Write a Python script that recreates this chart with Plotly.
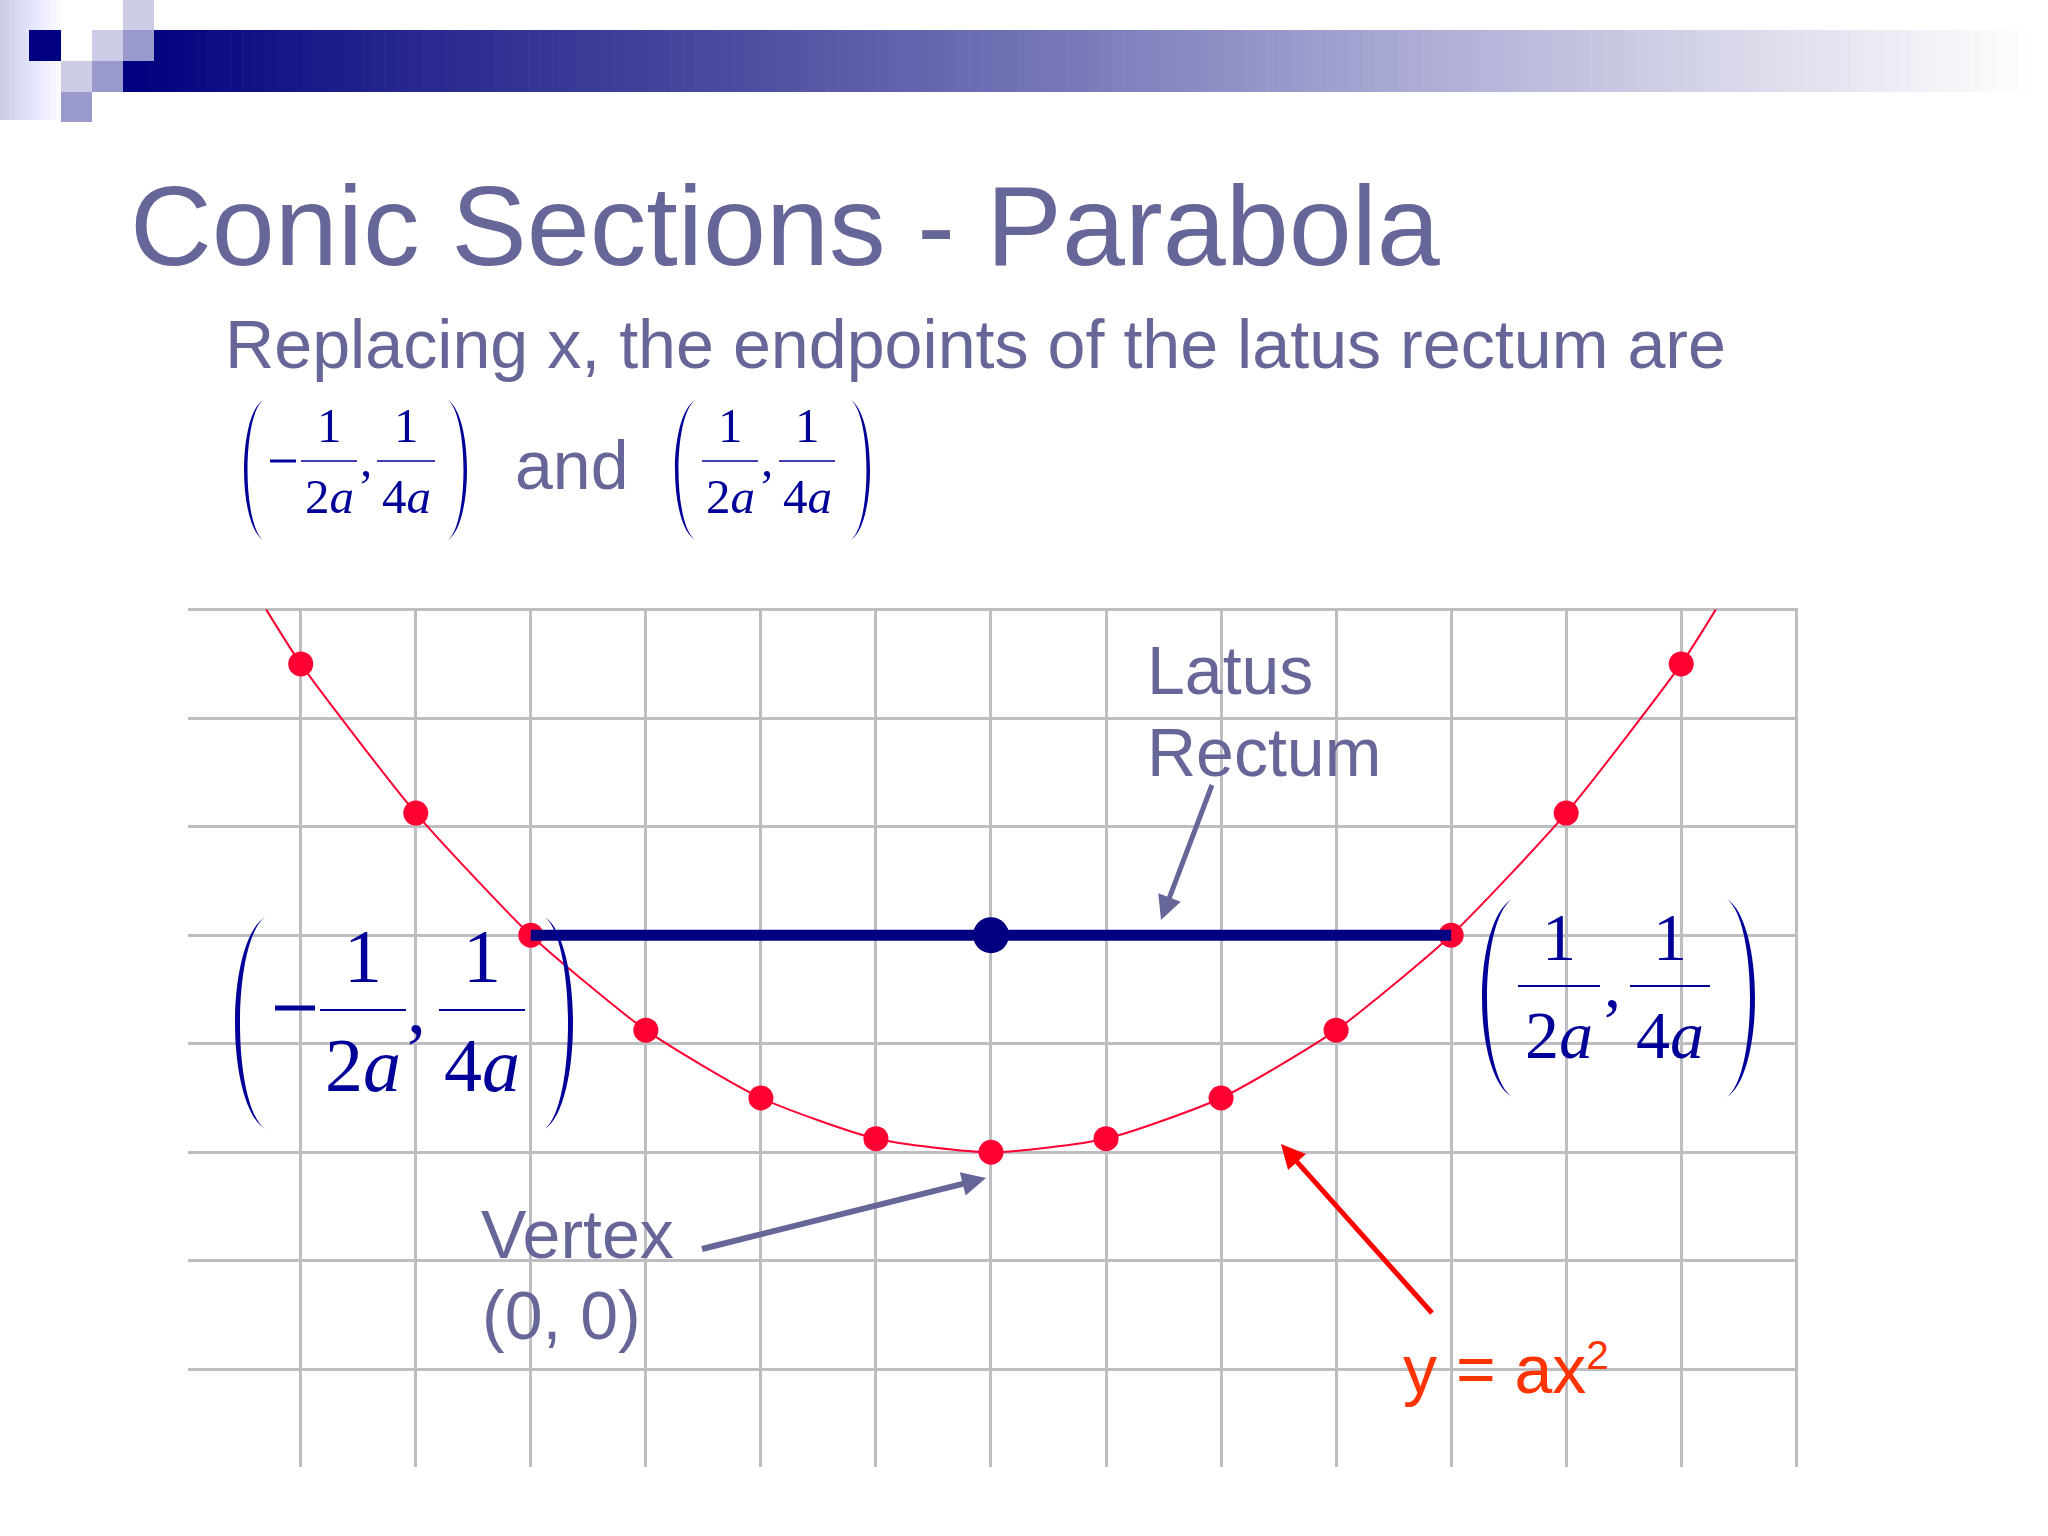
import math
import plotly.graph_objects as go

# points of y = a x^2 (a = 1/8)
x_points = [-6, -5, -4, -3, -2, -1, 0, 1, 2, 3, 4, 5, 6]
y_points = [4.5, 3.125, 2, 1.125, 0.5, 0.125, 0, 0.125, 0.5, 1.125, 2, 3.125, 4.5]
# the thin red curve runs on to the top edge of the grid
curve_x = [-6.3, -6, -5, -4, -3, -2, -1, 0, 1, 2, 3, 4, 5, 6, 6.3]
curve_y = [5, 4.5, 3.125, 2, 1.125, 0.5, 0.125, 0, 0.125, 0.5, 1.125, 2, 3.125, 4.5, 5]
# latus rectum and its midpoint (the focus)
latus_x = [-4, 4]
latus_y = [2, 2]
focus_x = [0]
focus_y = [2]
grid_x = [-6, -5, -4, -3, -2, -1, 0, 1, 2, 3, 4, 5, 6, 7]
grid_y = [-2, -1, 0, 1, 2, 3, 4, 5]

W, H = 2048, 1536
L, R, T, B = 188, 1798, 608, 1467   # plot area in pixels

NAVY = "#000080"
EQ = "#000099"
SLATE = "#666699"
RED = "#FF0033"
SANS = "Liberation Sans, Arial, sans-serif"
SERIF = "Liberation Serif, Times New Roman, serif"

fig = go.Figure()

fig.add_trace(go.Scatter(x=curve_x, y=curve_y, mode="lines",
                         line=dict(color=RED, width=2, shape="spline", smoothing=0.6),
                         hoverinfo="skip"))
fig.add_trace(go.Scatter(x=x_points, y=y_points, mode="markers",
                         marker=dict(color=RED, size=25, line=dict(width=0))))
fig.add_trace(go.Scatter(x=latus_x, y=latus_y, mode="lines",
                         line=dict(color=NAVY, width=11)))
fig.add_trace(go.Scatter(x=focus_x, y=focus_y, mode="markers",
                         marker=dict(color=NAVY, size=36, line=dict(width=0))))


def fx(px):
    return (px - L) / (R - L)


def fy(py):
    return (B - py) / (B - T)


def rect(x0, y0, x1, y1, color):
    fig.add_shape(type="rect", xref="paper", yref="paper",
                  x0=fx(x0), x1=fx(x1), y0=fy(y0), y1=fy(y1),
                  fillcolor=color, line=dict(width=0), layer="above")


def seg(x0, y0, x1, y1, width, color):
    fig.add_shape(type="line", xref="paper", yref="paper",
                  x0=fx(x0), x1=fx(x1), y0=fy(y0), y1=fy(y1),
                  line=dict(color=color, width=width), layer="above")


def label(x, base, text, size, color, family=SANS, anchor="left"):
    fig.add_annotation(x=fx(x), y=fy(base - 0.345 * size), xref="paper", yref="paper",
                       text=text, showarrow=False, xanchor=anchor, yanchor="middle",
                       borderpad=0, font=dict(size=size, color=color, family=family))


def arrow(x0, y0, x1, y1, width, color, head_len=24, head_w=12):
    d = math.hypot(x1 - x0, y1 - y0)
    ux, uy = (x1 - x0) / d, (y1 - y0) / d
    bx, by = x1 - ux * head_len, y1 - uy * head_len
    seg(x0, y0, bx + ux * 2, by + uy * 2, width, color)
    pts = [(x1, y1), (bx - uy * head_w, by + ux * head_w), (bx + uy * head_w, by - ux * head_w)]
    path = "M " + " L ".join(f"{fx(px)},{fy(py)}" for px, py in pts) + " Z"
    fig.add_shape(type="path", xref="paper", yref="paper", path=path,
                  fillcolor=color, line=dict(width=0), layer="above")


def paren(x_bulge, x_tips, yt, yb, thick, color=EQ):
    k = 0.12 * (yb - yt)
    c1 = (x_bulge - 0.25 * x_tips) / 0.75
    inner = x_bulge + thick if x_bulge < x_tips else x_bulge - thick
    c2 = (inner - 0.25 * x_tips) / 0.75
    p = (f"M {fx(x_tips)},{fy(yt)} "
         f"C {fx(c1)},{fy(yt + k)} {fx(c1)},{fy(yb - k)} {fx(x_tips)},{fy(yb)} "
         f"C {fx(c2)},{fy(yb - k)} {fx(c2)},{fy(yt + k)} {fx(x_tips)},{fy(yt)} Z")
    fig.add_shape(type="path", xref="paper", yref="paper", path=p,
                  fillcolor=color, line=dict(width=0), layer="above")


def frac(cx, half, bar_y, size, denom, bar_w):
    seg(cx - half, bar_y, cx + half, bar_y, bar_w, EQ)
    label(cx, bar_y - 0.37 * size, "1", size, EQ, SERIF, "center")
    label(cx, bar_y + 1.07 * size, denom, size, EQ, SERIF, "center")


# header decoration
for i in range(12):
    x0 = i * 61 / 12
    v = int(205 + 45 * i / 11)
    rect(x0, 0, x0 + 61 / 12 + 0.5, 120, f"rgb({v},{v},{min(255, v + 25)})")
stops = [(123, (0, 0, 128)), (400, (38, 38, 142)), (700, (72, 72, 158)),
         (1050, (118, 118, 184)), (1400, (170, 170, 213)), (1700, (212, 212, 232)),
         (2030, (255, 255, 255))]
n = 160
for i in range(n):
    xa = 123 + (2030 - 123) * i / n
    xb = 123 + (2030 - 123) * (i + 1) / n + 0.6
    xm = (xa + xb) / 2
    for (p0, c0), (p1, c1) in zip(stops[:-1], stops[1:]):
        if p0 <= xm <= p1:
            t = (xm - p0) / (p1 - p0)
            col = tuple(int(c0[j] + (c1[j] - c0[j]) * t) for j in range(3))
            break
    rect(xa, 30, xb, 92, f"rgb{col}")
LIGHT = "rgb(204,204,230)"
MID = "rgb(153,153,204)"
rect(29, 30, 61, 61, NAVY)
rect(123, 0, 154, 30, LIGHT)
rect(92, 30, 123, 61, LIGHT)
rect(123, 30, 154, 61, MID)
rect(61, 61, 92, 92, LIGHT)
rect(92, 61, 123, 92, MID)
rect(61, 92, 92, 122, MID)

# title texts
label(129, 265, "Conic Sections - Parabola", 113.3, SLATE)
label(224, 368, "Replacing x, the endpoints of the latus rectum are", 68.2, SLATE)
label(514, 488, "and", 68, SLATE)

# small coordinate pairs in the subtitle
paren(244, 263, 400, 540, 3.5)
paren(467, 448, 400, 540, 3.5)
seg(270, 461, 296, 461, 3, EQ)
frac(329, 28, 461, 49, "2<i>a</i>", 1.5)
frac(406, 29, 461, 49, "4<i>a</i>", 1.5)
label(366, 476, ",", 49, EQ, SERIF, "center")
paren(675, 695, 400, 540, 3.5)
paren(870, 851, 400, 540, 3.5)
frac(730, 28, 461, 49, "2<i>a</i>", 1.5)
frac(807, 28, 461, 49, "4<i>a</i>", 1.5)
label(767, 476, ",", 49, EQ, SERIF, "center")

# big endpoint labels on the chart
paren(235, 265, 917, 1129, 5)
paren(573, 545, 917, 1129, 5)
seg(275, 1008, 315, 1008, 5, EQ)
frac(363, 43, 1010, 76, "2<i>a</i>", 2)
frac(482, 43, 1010, 76, "4<i>a</i>", 2)
label(416, 1033, ",", 76, EQ, SERIF, "center")
paren(1482, 1512, 899, 1097, 5)
paren(1755, 1727, 899, 1097, 5)
frac(1559, 41, 986, 68, "2<i>a</i>", 2)
frac(1670, 40, 986, 68, "4<i>a</i>", 2)
label(1612, 1007, ",", 68, EQ, SERIF, "center")

# callouts
label(1146, 693, "Latus", 68, SLATE)
label(1146, 775, "Rectum", 68, SLATE)
arrow(1212, 785, 1161, 920, 5, SLATE)
label(480, 1257, "Vertex", 68, SLATE)
label(481, 1338, "(0, 0)", 68, SLATE)
arrow(702, 1249, 986, 1178, 6, SLATE)
arrow(1432, 1313, 1281, 1144, 5, "#FF0000")
label(1402, 1392, "y = ax<span style='font-size:58px'><sup>2</sup></span>", 68, "#FF3300")

fig.update_layout(
    width=W, height=H,
    margin=dict(l=L, r=W - R, t=T, b=H - B),
    paper_bgcolor="white", plot_bgcolor="white",
    showlegend=False,
    xaxis=dict(range=[-6.98, 7.015], tickvals=grid_x, showticklabels=False, ticks="",
               showgrid=True, gridcolor="#BEBEC2", gridwidth=3, zeroline=False, showline=False),
    yaxis=dict(range=[-2.9, 5.015], tickvals=grid_y, showticklabels=False, ticks="",
               showgrid=True, gridcolor="#BEBEC2", gridwidth=3, zeroline=False, showline=False),
)

# the page's default body margin would push the figure 8px off the corner
fig.write_html("out.html", config={"displayModeBar": False},
               post_script="document.body.style.margin = '0';")
